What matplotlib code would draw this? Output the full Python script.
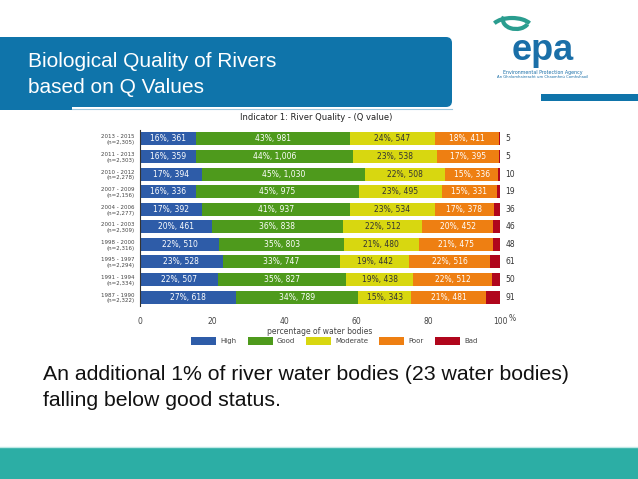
import matplotlib
matplotlib.use("Agg")
import matplotlib.pyplot as plt
from matplotlib.patches import FancyBboxPatch, Rectangle, Arc
import numpy as np

# --- data ---
periods = ['2013 - 2015', '2011 - 2013', '2010 - 2012', '2007 - 2009', '2004 - 2006',
           '2001 - 2003', '1998 - 2000', '1995 - 1997', '1991 - 1994', '1987 - 1990']
high = [361, 359, 394, 336, 392, 461, 510, 528, 507, 618]
good = [981, 1006, 1030, 975, 937, 838, 803, 747, 827, 789]
moderate = [547, 538, 508, 495, 534, 512, 480, 442, 438, 343]
poor = [411, 395, 336, 331, 378, 452, 475, 516, 512, 481]
bad = [5, 5, 10, 19, 36, 46, 48, 61, 50, 91]
high_pct = [16, 16, 17, 16, 17, 20, 22, 23, 22, 27]
good_pct = [43, 44, 45, 45, 41, 36, 35, 33, 35, 34]
mod_pct = [24, 23, 22, 23, 23, 22, 21, 19, 19, 15]
poor_pct = [18, 17, 15, 15, 17, 20, 21, 22, 22, 21]
classes = ['High', 'Good', 'Moderate', 'Poor', 'Bad']
colors = ['#2e5ca8', '#4e9a1c', '#d8d710', '#ee7f12', '#b0061c']

counts = np.array([high, good, moderate, poor, bad], dtype=float)
n = counts.sum(axis=0)
shares = counts / n * 100

W, H = 638, 479
fig = plt.figure(figsize=(W / 100, H / 100), dpi=100)

# background / slide decorations
bg = fig.add_axes([0, 0, 1, 1])
bg.set_xlim(0, W)
bg.set_ylim(H, 0)
bg.axis('off')
bg.add_patch(FancyBboxPatch((-20, 37), 472, 70, boxstyle='round,pad=0,rounding_size=6',
                            fc='#0f74aa', ec='none'))
bg.add_patch(Rectangle((0, 100), 72, 10, fc='#0f74aa', ec='none'))
bg.add_patch(Rectangle((541, 94), 100, 7, fc='#0f74aa', ec='none'))
bg.plot([72, 452], [109, 109], color='#9cc6dc', lw=0.8)
bg.text(28, 67, 'Biological Quality of Rivers', color='white', fontsize=15,
        family='Liberation Sans', va='baseline')
bg.text(28, 92.5, 'based on Q Values', color='white', fontsize=15,
        family='Liberation Sans', va='baseline')
# logo
bg.add_patch(Arc((512, 28), 40, 20, theta1=195, theta2=345, color='#2a9d8f', lw=3))
bg.add_patch(Arc((516, 20), 26, 18, theta1=20, theta2=195, color='#2a9d8f', lw=3))
bg.text(543, 50, 'epa', color='#1a6fa8', fontsize=26, family='Liberation Sans',
        ha='center', va='center', fontweight='bold')
bg.text(543, 72.5, 'Environmental Protection Agency', color='#1a6fa8', fontsize=3.4,
        ha='center', va='center')
bg.text(543, 77, 'An Ghníomhaireacht um Chaomhnú Comhshaoil', color='#1a6fa8',
        fontsize=2.7, ha='center', va='center')
# footer
bg.add_patch(Rectangle((0, 447), W, 32, fc='#2caea5', ec='none'))
bg.plot([0, W], [446.5, 446.5], color='#bfe9e6', lw=1)
bg.text(43, 375, 'An additional 1% of river water bodies (23 water bodies)',
        fontsize=15.3, family='Liberation Sans', va='center', color='#111111')
bg.text(43, 401, 'falling below good status.', fontsize=15.3,
        family='Liberation Sans', va='center', color='#111111')
bg.text(316, 117, 'Indicator 1: River Quality - (Q value)', fontsize=6,
        ha='center', va='center', color='#222222')

# chart
ax = fig.add_axes([140 / W, 1 - 305.8 / H, 360 / W, 175.6 / H])
y = np.arange(len(periods))
left = np.zeros(len(periods))
pct_labels = [high_pct, good_pct, mod_pct, poor_pct]
for k, (name, col) in enumerate(zip(classes, colors)):
    ax.barh(y, shares[k], left=left, height=0.74, color=col, label=name)
    if k < 4:
        for i in range(len(periods)):
            txt = f'{pct_labels[k][i]}%, {int(counts[k][i]):,}'
            tc = '#333333' if k == 2 else 'white'
            ax.text(left[i] + shares[k][i] / 2, y[i], txt, ha='center', va='center',
                    fontsize=5.5, color=tc)
    left += shares[k]
for i in range(len(periods)):
    ax.text(101.5, y[i], str(bad[i]), ha='left', va='center', fontsize=5.5, color='#333333')

ax.set_xlim(0, 100)
ax.set_ylim(len(periods) - 0.5, -0.5)
ax.set_yticks(y)
ax.set_yticklabels([f'{p}\n(n={int(v):,})' for p, v in zip(periods, n)],
                   fontsize=4, color='#444444', linespacing=1.2)
ax.set_xticks([0, 20, 40, 60, 80, 100])
ax.tick_params(axis='x', length=0, labelsize=5.5, pad=8, colors='#444444')
ax.tick_params(axis='y', length=0, pad=4)
for s in ['top', 'right', 'bottom']:
    ax.spines[s].set_visible(False)
ax.spines['left'].set_color('#333333')
ax.spines['left'].set_linewidth(0.8)
ax.set_xlabel('percentage of water bodies', fontsize=5.5, color='#444444', labelpad=1)
ax.text(102.5, -0.045, '%', transform=ax.get_xaxis_transform(), fontsize=5.5,
        color='#444444', ha='left', va='top')
ax.legend(loc='center', bbox_to_anchor=(0.54, -0.2), ncol=5, frameon=False,
          fontsize=5, handlelength=3.6, handleheight=1.3, handletextpad=0.6,
          columnspacing=1.6, labelcolor='#444444')

fig.savefig('out.png', dpi=100)
